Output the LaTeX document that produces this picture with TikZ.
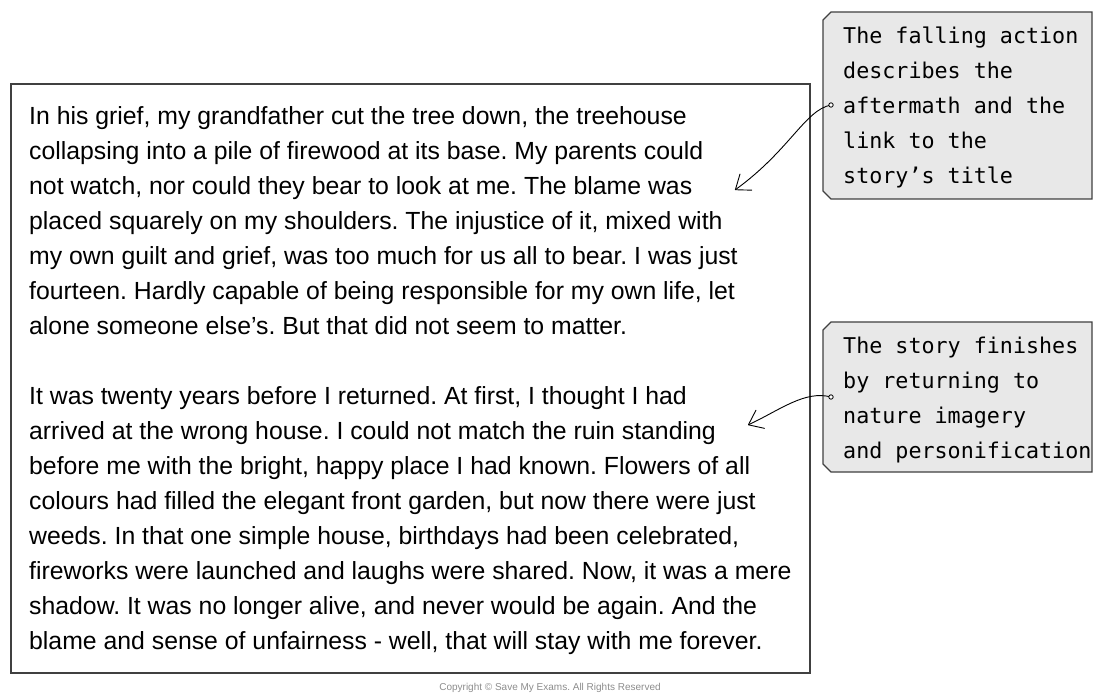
\documentclass[tikz,border=0pt]{standalone}
\usepackage{fontspec}
\setmainfont{Liberation Sans}
\newfontfamily\handf{DejaVu Sans Mono}
\usetikzlibrary{arrows.meta}
\begin{document}
\frenchspacing
\begin{tikzpicture}[x=1pt,y=-1pt,
  main/.style={anchor=north west,inner sep=0pt,align=left,font=\fontsize{24.8}{35}\selectfont},
  note/.style={anchor=north west,inner sep=0pt,align=left,font=\handf\fontsize{21.7}{35}\selectfont},
  box/.style={draw=black!75,line width=1.2pt,fill=black!9},
  conn/.style={line width=0.9pt,-{Straight Barb[length=13pt,width=20pt,round]}}]
\useasboundingbox (0,0) rectangle (1100,700);
\draw[black!75,line width=1.3pt] (11,84) rectangle (810,673);
\node[main] (t) at (29,106) {In his grief, my grandfather cut the tree down, the treehouse\\
collapsing into a pile of firewood at its base. My parents could\\
not watch, nor could they bear to look at me. The blame was\\
placed squarely on my shoulders. The injustice of it, mixed with\\
my own guilt and grief, was too much for us all to bear. I was just\\
fourteen. Hardly capable of being responsible for my own life, let\\
alone someone else’s. But that did not seem to matter.\\[35pt]
It was twenty years before I returned. At first, I thought I had\\
arrived at the wrong house. I could not match the ruin standing\\
before me with the bright, happy place I had known. Flowers of all\\
colours had filled the elegant front garden, but now there were just\\
weeds. In that one simple house, birthdays had been celebrated,\\
fireworks were launched and laughs were shared. Now, it was a mere\\
shadow. It was no longer alive, and never would be again. And the\\
blame and sense of unfairness - well, that will stay with me forever.};
\draw[box] (831,12) -- (1092,12) -- (1092,199) -- (831,199) -- (823,191) -- (823,20) -- cycle;
\draw[box] (831,322) -- (1092,322) -- (1092,472) -- (831,472) -- (823,464) -- (823,330) -- cycle;
\node[note] (n1) at (843,27) {The falling action\\describes the\\aftermath and the\\link to the\\story’s title};
\node[note] (n2) at (843,337) {The story finishes\\by returning to\\nature imagery\\and personification};
\coordinate (c1) at (831,105);
\coordinate (c2) at (831,397);
\coordinate (e1) at (735,190);
\coordinate (e2) at (748,425);
\draw[conn] (c1) .. controls (805,110) and (790,150) .. (e1);
\draw[conn] (c2) .. controls (805,390) and (780,410) .. (e2);
\draw[fill=white,line width=0.8pt] (c1) circle (2.2pt);
\draw[fill=white,line width=0.8pt] (c2) circle (2.2pt);
\node[text=black!45,font=\fontsize{10}{11}\selectfont] (cp) at (550,688) {Copyright © Save My Exams. All Rights Reserved};
\end{tikzpicture}
\end{document}
